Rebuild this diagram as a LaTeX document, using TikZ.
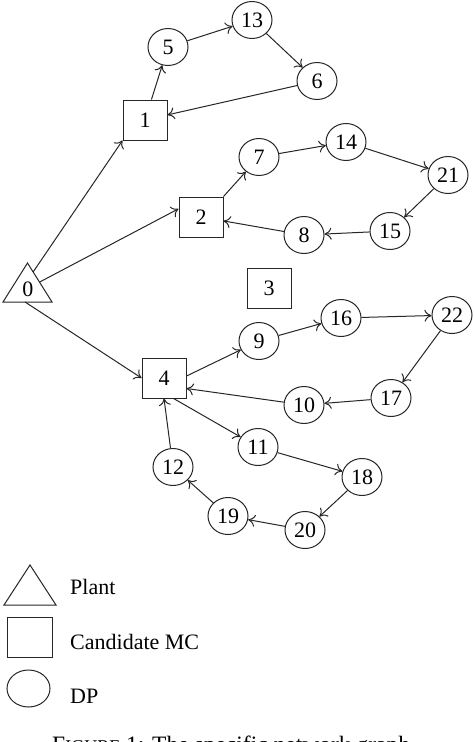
\documentclass[tikz,border=0pt]{standalone}
\usepackage{fontspec}
\setmainfont{Liberation Serif}
\usetikzlibrary{shapes.geometric,arrows.meta,calc}
\begin{document}
\begin{tikzpicture}[x=1pt,y=-1pt,
  every node/.style={font=\fontsize{22}{22}\selectfont},
  shapeline/.style={line width=1pt, draw=black!85},
  dp/.style={shapeline, draw, ellipse, minimum width=40pt, minimum height=37pt, inner sep=0pt},
  mc/.style={shapeline, draw, rectangle, minimum width=44pt, minimum height=40pt, inner sep=0pt},
  lbl/.style={inner sep=0pt, anchor=base west},
  edge/.style={line width=1pt, draw=black!85, -{Computer Modern Rightarrow[length=7pt,width=12pt]}},
]
\useasboundingbox (0,0) rectangle (474,742);
\clip (0,0) rectangle (474,742);

% plant
\coordinate (t0a) at (27.5,263);
\coordinate (t0l) at (3,302);
\coordinate (t0r) at (52,302);
\draw[shapeline] (t0l) -- (t0a) -- (t0r) -- cycle;
\node[inner sep=0pt] (n0) at (28,289) {0};

% candidate MCs
\node[mc] (n1) at (145,120) {1};
\node[mc] (n2) at (201,217) {2};
\node[mc] (n3) at (269,288) {3};
\node[mc] (n4) at (164,378) {4};

% DPs
\node[dp] (n5) at (168,47) {5};
\node[dp] (n13) at (252,20) {13};
\node[dp] (n6) at (317,81) {6};
\node[dp] (n7) at (259,157) {7};
\node[dp] (n14) at (346,142) {14};
\node[dp] (n21) at (448,175) {21};
\node[dp] (n8) at (304,235) {8};
\node[dp] (n15) at (390,231) {15};
\node[dp] (n16) at (341,318) {16};
\node[dp] (n22) at (452,315) {22};
\node[dp] (n9) at (259,341) {9};
\node[dp] (n10) at (304,405) {10};
\node[dp] (n17) at (391,398) {17};
\node[dp] (n11) at (258,447) {11};
\node[dp] (n12) at (173,467) {12};
\node[dp] (n18) at (362,477) {18};
\node[dp] (n19) at (228,516) {19};
\node[dp] (n20) at (305,530) {20};

% edges from plant
\draw[edge] ($(t0a)!0.23!(t0r)$) -- (n1.south west);
\draw[edge] ($(t0a)!0.49!(t0r)$) -- (n2.160);
\draw[edge] ($(t0l)!0.45!(t0r)$) -- (n4.west);

% route 1
\draw[edge] (n1) -- (n5);
\draw[edge] (n5) -- (n13);
\draw[edge] (n13) -- (n6);
\draw[edge] (n6) -- (n1);

% route 2
\draw[edge] (n2.north east) -- (n7);
\draw[edge] (n7) -- (n14);
\draw[edge] (n14) -- (n21);
\draw[edge] (n21) -- (n15);
\draw[edge] (n15) -- (n8);
\draw[edge] (n8) -- (n2);

% route 4a
\draw[edge] (n4.5) -- (n9);
\draw[edge] (n9) -- (n16);
\draw[edge] (n16) -- (n22);
\draw[edge] (n22) -- (n17);
\draw[edge] (n17) -- (n10);
\draw[edge] (n10) -- (n4.-25);

% route 4b
\draw[edge] (n4.-65) -- (n11);
\draw[edge] (n11) -- (n18);
\draw[edge] (n18) -- (n20);
\draw[edge] (n20) -- (n19);
\draw[edge] (n19) -- (n12);
\draw[edge] (n12) -- (n4.south);

% legend
\coordinate (lta) at (30,565);
\coordinate (ltl) at (4,605);
\coordinate (ltr) at (56,605);
\draw[shapeline] (ltl) -- (lta) -- (ltr) -- cycle;
\node[lbl] (lplant) at (70,594) {Plant};
\node[mc, minimum width=45pt] (lmc) at (29.5,637) {};
\node[lbl] (lmctext) at (70,649) {Candidate MC};
\node[dp, minimum width=43pt] (ldp) at (28.5,688.5) {};
\node[lbl] (ldptext) at (70,703) {DP};

% caption (cut off at the bottom edge, as in the reference)
\node[lbl, font=\fontsize{23.5}{23.5}\selectfont] (cap) at (52,752.5) {F{\fontsize{18}{18}\selectfont IGURE} 1: The specific network graph};
\end{tikzpicture}
\end{document}
